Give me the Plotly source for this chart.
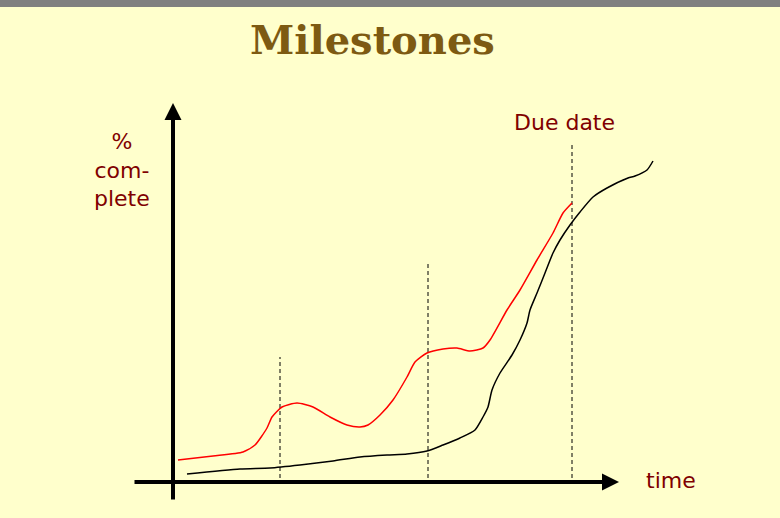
import plotly.graph_objects as go

# time / % complete (origin where the axes cross)
plan_time = [5, 40, 70, 82, 94, 99, 109, 124, 140, 157, 174, 187, 195, 207, 220,
             234, 242, 254, 270, 284, 297, 310, 317, 334, 347, 364, 380, 390, 399]
plan_pct = [22, 26, 30, 37, 54, 65, 75, 79, 75, 65, 57, 55, 57, 67, 82,
            105, 120, 129, 133, 134, 131, 134, 142, 172, 192, 222, 249, 269, 279]

actual_time = [14, 67, 97, 127, 160, 187, 214, 234, 254, 270, 287, 302, 310, 315, 319, 327,
               339, 347, 354, 357, 364, 372, 380, 387, 397, 407, 420, 434, 455, 462, 474, 480]
actual_pct = [8, 13, 14, 17, 21, 25, 27, 28, 31, 37, 44, 52, 65, 75, 92, 109,
              127, 142, 159, 172, 189, 209, 229, 242, 257, 270, 285, 294, 304, 306, 312, 321]

milestone_time = [107, 255, 399]
milestone_top = [125, 219, 339]

dark_red = "#800000"
label_font = dict(family="DejaVu Sans", size=22, color=dark_red)

fig = go.Figure()

for t, top in zip(milestone_time, milestone_top):
    fig.add_trace(go.Scatter(x=[t, t], y=[4, top], mode="lines",
                             line=dict(color="black", width=1, dash="4px,3px"),
                             showlegend=False, hoverinfo="skip"))

fig.add_trace(go.Scatter(x=plan_time, y=plan_pct, mode="lines",
                         line=dict(color="#ff0000", width=1.5, shape="spline", smoothing=0.6),
                         showlegend=False))
fig.add_trace(go.Scatter(x=actual_time, y=actual_pct, mode="lines",
                         line=dict(color="black", width=1.5, shape="spline", smoothing=0.6),
                         showlegend=False))

# the two arrowed axes
arrows = [dict(x=0, y=379, ax=0, ay=-19), dict(x=446, y=0, ax=-40, ay=0)]
annots = []
for a in arrows:
    annots.append(dict(x=a["x"], y=a["y"], ax=a["ax"], ay=a["ay"], xref="x", yref="y",
                       axref="x", ayref="y", text="", showarrow=True, arrowhead=2,
                       arrowsize=0.85, arrowwidth=4, arrowcolor="black", standoff=0))

annots += [
    dict(x=-51, y=312, xref="x", yref="y", text="%<br>com-<br>plete", showarrow=False,
         font=label_font, align="center"),
    dict(x=391, y=360, xref="x", yref="y", text="Due date", showarrow=False, font=label_font),
    dict(x=498, y=2, xref="x", yref="y", text="time", showarrow=False, font=label_font),
    dict(x=372.5 / 780, y=1 - 40 / 518, xref="paper", yref="paper", xanchor="center",
         yanchor="middle", text="<b>Milestones</b>", showarrow=False,
         font=dict(family="DejaVu Serif", size=40, color="#7d5a12")),
]

fig.update_layout(
    width=780, height=518,
    margin=dict(l=0, r=0, t=0, b=0),
    paper_bgcolor="#ffffcc", plot_bgcolor="#ffffcc",
    xaxis=dict(range=[-173, 607], visible=False, fixedrange=True),
    yaxis=dict(range=[-36, 482], visible=False, fixedrange=True),
    annotations=annots,
    shapes=[dict(type="rect", xref="paper", yref="paper", x0=0, x1=1,
                 y0=1 - 7 / 518, y1=1, fillcolor="#808080", line=dict(width=0))],
)

fig.write_html("out.html", config={"displayModeBar": False},
               post_script="document.body.style.margin = '0';")
